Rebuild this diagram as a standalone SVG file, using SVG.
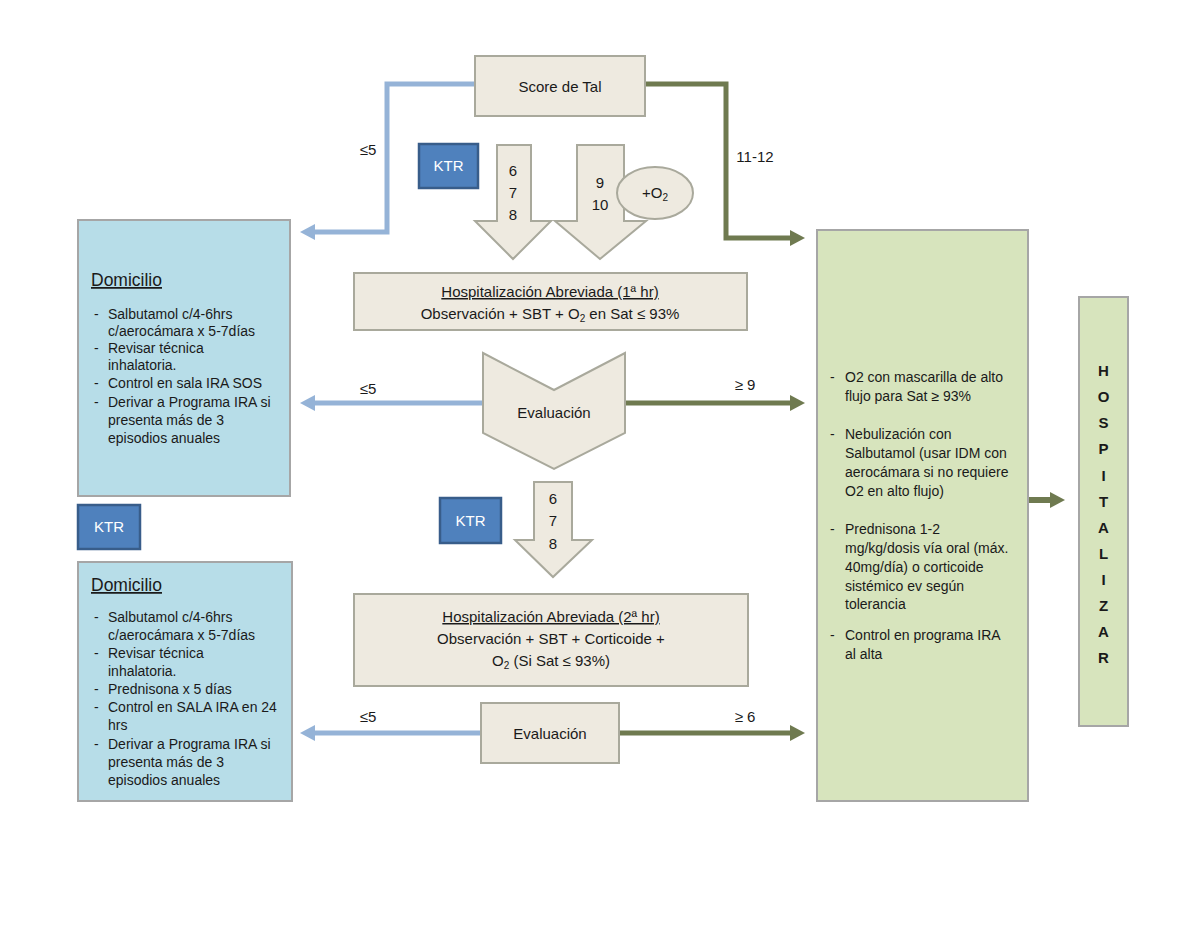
<svg xmlns="http://www.w3.org/2000/svg" width="1200" height="927" viewBox="0 0 1200 927">
<style>
text{font-family:"Liberation Sans",Arial,sans-serif;fill:#1a1a1a}
.beige{fill:#EEEAE0;stroke:#A9A99C;stroke-width:2}
.dom{fill:#B7DDE8;stroke:#A6A6A6;stroke-width:2}
.grn{fill:#D7E4BD;stroke:#A6A6A6;stroke-width:2}
.ktr{fill:#4F81BD;stroke:#385D8A;stroke-width:2.5}
.ktrt{fill:#ffffff;font-size:15px;text-anchor:middle}
.c{text-anchor:middle}
.m{font-size:15px}
.l{font-size:14px}
.t{font-size:17.5px;text-decoration:underline}
.blue{fill:none;stroke:#95B3D7;stroke-width:5}
.olive{fill:none;stroke:#6F7A50;stroke-width:5}
.lab{font-size:15px}
.hz{font-size:15px;font-weight:bold;text-anchor:middle}
</style>
<defs>
<marker id="ab" markerUnits="userSpaceOnUse" markerWidth="16" markerHeight="18" refX="2" refY="9" orient="auto"><path d="M0,1 L15,9 L0,17 Z" fill="#95B3D7"/></marker>
<marker id="ag" markerUnits="userSpaceOnUse" markerWidth="16" markerHeight="18" refX="2" refY="9" orient="auto"><path d="M0,1 L15,9 L0,17 Z" fill="#6F7A50"/></marker>
</defs>

<g id="connectors">
<polyline class="blue" points="475,84 387,84 387,232 313,232" marker-end="url(#ab)"/>
<polyline class="olive" points="645,84 726,84 726,238 792,238" marker-end="url(#ag)"/>
<line class="blue" x1="483" y1="403" x2="313" y2="403" marker-end="url(#ab)"/>
<line class="olive" x1="625" y1="403" x2="792" y2="403" marker-end="url(#ag)"/>
<line class="blue" x1="481" y1="733" x2="313" y2="733" marker-end="url(#ab)"/>
<line class="olive" x1="619" y1="733" x2="792" y2="733" marker-end="url(#ag)"/>
<path d="M1029,497 L1050,497 L1050,492 L1065,500 L1050,508 L1050,503 L1029,503 Z" fill="#6F7A50"/>
<text class="lab" x="368" y="155" text-anchor="middle">≤5</text>
<text class="lab" x="755" y="162" text-anchor="middle">11-12</text>
<text class="lab" x="368" y="394" text-anchor="middle">≤5</text>
<text class="lab" x="745" y="390" text-anchor="middle">≥ 9</text>
<text class="lab" x="368" y="722" text-anchor="middle">≤5</text>
<text class="lab" x="745" y="722" text-anchor="middle">≥ 6</text>
</g>

<g id="score">
<rect class="beige" x="475" y="56" width="170" height="60"/>
<text class="c m" x="560" y="92">Score de Tal</text>
</g>

<g id="ktr1">
<rect class="ktr" x="419" y="144" width="59" height="44"/>
<text class="ktrt" x="448.5" y="171">KTR</text>
</g>

<g id="arrow678a">
<path class="beige" d="M497,145 L531,145 L531,221 L551,221 L513,259 L475,221 L497,221 Z"/>
<text class="c m" x="513" y="176">6</text>
<text class="c m" x="513" y="198">7</text>
<text class="c m" x="513" y="220">8</text>
</g>

<g id="arrow910">
<path class="beige" d="M577,145 L624,145 L624,221 L646,221 L600,259 L555,221 L577,221 Z"/>
<text class="c m" x="600" y="188">9</text>
<text class="c m" x="600" y="210">10</text>
</g>

<g id="o2">
<ellipse class="beige" cx="655" cy="193" rx="38" ry="26"/>
<text class="c m" x="655" y="198">+O<tspan font-size="10" dy="3">2</tspan></text>
</g>

<g id="hosp1">
<rect class="beige" x="354" y="273" width="393" height="57"/>
<text class="c" font-size="15" x="550" y="297" text-decoration="underline">Hospitalización Abreviada (1ª hr)</text>
<text class="c" font-size="15" x="550" y="319">Observación + SBT + O<tspan font-size="10" dy="3">2</tspan><tspan dy="-3"> en Sat ≤ 93%</tspan></text>
</g>

<g id="eval1">
<path class="beige" d="M483,353 L554,390 L625,353 L625,433 L554,469 L483,433 Z"/>
<text class="c m" x="554" y="418">Evaluación</text>
</g>

<g id="dom1">
<rect class="dom" x="78" y="220" width="212" height="276"/>
<text class="t" x="91" y="286">Domicilio</text>
<g class="l">
<text x="94" y="319">-</text><text x="108" y="319">Salbutamol c/4-6hrs</text>
<text x="108" y="336">c/aerocámara x 5-7días</text>
<text x="94" y="353">-</text><text x="108" y="353">Revisar técnica</text>
<text x="108" y="370">inhalatoria.</text>
<text x="94" y="388">-</text><text x="108" y="388">Control en sala IRA SOS</text>
<text x="94" y="407">-</text><text x="108" y="407">Derivar a Programa IRA si</text>
<text x="108" y="425">presenta más de 3</text>
<text x="108" y="443">episodios anuales</text>
</g>
</g>

<g id="ktr2">
<rect class="ktr" x="78" y="505" width="62" height="44"/>
<text class="ktrt" x="109" y="532">KTR</text>
</g>

<g id="dom2">
<rect class="dom" x="78" y="562" width="214" height="239"/>
<text class="t" x="91" y="591">Domicilio</text>
<g class="l">
<text x="94" y="622">-</text><text x="108" y="622">Salbutamol c/4-6hrs</text>
<text x="108" y="640">c/aerocámara x 5-7días</text>
<text x="94" y="658">-</text><text x="108" y="658">Revisar técnica</text>
<text x="108" y="676">inhalatoria.</text>
<text x="94" y="694">-</text><text x="108" y="694">Prednisona x 5 días</text>
<text x="94" y="712">-</text><text x="108" y="712">Control en SALA IRA en 24</text>
<text x="108" y="730">hrs</text>
<text x="94" y="749">-</text><text x="108" y="749">Derivar a Programa IRA si</text>
<text x="108" y="767">presenta más de 3</text>
<text x="108" y="785">episodios anuales</text>
</g>
</g>

<g id="ktr3">
<rect class="ktr" x="440" y="498" width="61" height="45"/>
<text class="ktrt" x="470.5" y="526">KTR</text>
</g>

<g id="arrow678b">
<path class="beige" d="M534,482 L572,482 L572,540 L592,540 L553,577 L515,540 L534,540 Z"/>
<text class="c m" x="553" y="504">6</text>
<text class="c m" x="553" y="526">7</text>
<text class="c m" x="553" y="549">8</text>
</g>

<g id="hosp2">
<rect class="beige" x="354" y="594" width="394" height="92"/>
<text class="c" font-size="15" x="551" y="622" text-decoration="underline">Hospitalización Abreviada (2ª hr)</text>
<text class="c" font-size="15" x="551" y="644">Observación + SBT + Corticoide +</text>
<text class="c" font-size="15" x="551" y="666">O<tspan font-size="10" dy="3">2</tspan><tspan dy="-3"> (Si Sat ≤ 93%)</tspan></text>
</g>

<g id="eval2">
<rect class="beige" x="481" y="703" width="138" height="60"/>
<text class="c m" x="550" y="739">Evaluación</text>
</g>

<g id="hospbox">
<rect class="grn" x="817" y="230" width="211" height="571"/>
<g class="l">
<text x="830" y="382">-</text><text x="845" y="382">O2 con mascarilla de alto</text>
<text x="845" y="401">flujo para Sat ≥ 93%</text>
<text x="830" y="439">-</text><text x="845" y="439">Nebulización con</text>
<text x="845" y="458">Salbutamol (usar IDM con</text>
<text x="845" y="477">aerocámara si no requiere</text>
<text x="845" y="496">O2 en alto flujo)</text>
<text x="830" y="534">-</text><text x="845" y="534">Prednisona 1-2</text>
<text x="845" y="553">mg/kg/dosis vía oral (máx.</text>
<text x="845" y="572">40mg/día) o corticoide</text>
<text x="845" y="591">sistémico ev según</text>
<text x="845" y="609">tolerancia</text>
<text x="830" y="640">-</text><text x="845" y="640">Control en programa IRA</text>
<text x="845" y="659">al alta</text>
</g>
</g>

<g id="hospitalizar">
<rect class="grn" x="1079" y="297" width="49" height="429"/>
<text class="hz" x="1103.5" y="376">H</text>
<text class="hz" x="1103.5" y="402">O</text>
<text class="hz" x="1103.5" y="428">S</text>
<text class="hz" x="1103.5" y="454">P</text>
<text class="hz" x="1103.5" y="481">I</text>
<text class="hz" x="1103.5" y="507">T</text>
<text class="hz" x="1103.5" y="533">A</text>
<text class="hz" x="1103.5" y="559">L</text>
<text class="hz" x="1103.5" y="585">I</text>
<text class="hz" x="1103.5" y="611">Z</text>
<text class="hz" x="1103.5" y="637">A</text>
<text class="hz" x="1103.5" y="663">R</text>
</g>
</svg>
